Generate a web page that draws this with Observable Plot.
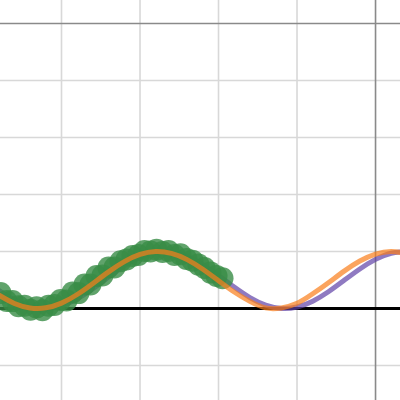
<!DOCTYPE html>
<html>
<head>
<meta charset="utf-8">
<script src="https://cdn.jsdelivr.net/npm/d3@7"></script>
<script src="https://cdn.jsdelivr.net/npm/@observablehq/plot@0.6"></script>
<style>
html, body { margin: 0; padding: 0; background: #fff; }
#chart svg { display: block; }
</style>
</head>
<body>
<div id="chart"></div>
<script>
// Grid positions (integer units)
const gridX = [-4, -3, -2, -1];
const gridY = [-6, -4, -3, -2, -1];
const axisX = [0];
const axisY = [0];
const baseLineY = [-5];

// Curve sample x positions
const curveX = [-4.8, -4.6, -4.4, -4.2, -4.0, -3.8, -3.6, -3.4, -3.2, -3.0, -2.8, -2.6, -2.4, -2.2, -2.0,
  -1.8, -1.6, -1.4, -1.2, -1.0, -0.8, -0.6, -0.4, -0.2, 0.0, 0.2, 0.4];
// Orange curve values
const orangeY = [-4.763, -4.911, -4.990, -4.988, -4.905, -4.754, -4.560, -4.357, -4.178, -4.052, -4.001,
  -4.033, -4.142, -4.312, -4.513, -4.711, -4.875, -4.989, -4.990, -4.909, -4.742, -4.547, -4.344,
  -4.167, -4.046, -4.000, -4.037];
// Purple curve values
const purpleY = [-4.680, -4.852, -4.964, -5.000, -4.952, -4.829, -4.651, -4.448, -4.253, -4.100, -4.013,
  -4.008, -4.085, -4.230, -4.421, -4.624, -4.808, -4.939, -4.998, -4.974, -4.871, -4.706, -4.506,
  -4.306, -4.138, -4.030, -4.001];

// Green data points
const pointX = [-4.777, -4.701, -4.624, -4.548, -4.471, -4.395, -4.318, -4.242, -4.166, -4.089, -4.013,
  -3.936, -3.860, -3.783, -3.707, -3.631, -3.554, -3.478, -3.401, -3.325, -3.248, -3.172, -3.096,
  -3.019, -2.943, -2.866, -2.790, -2.713, -2.637, -2.561, -2.484, -2.408, -2.331, -2.255, -2.178,
  -2.102, -2.025, -1.949];
const pointY = [-4.73, -4.87, -4.87, -4.96, -4.95, -5.02, -4.98, -5.03, -4.95, -4.94, -4.85,
  -4.86, -4.72, -4.73, -4.58, -4.58, -4.43, -4.42, -4.28, -4.28, -4.17, -4.14, -4.08,
  -4.06, -3.99, -4.00, -3.97, -4.01, -3.99, -4.06, -4.05, -4.13, -4.16, -4.23, -4.29,
  -4.37, -4.43, -4.47];

const orange = curveX.map((x, i) => ({x, y: orangeY[i]}));
const purple = curveX.map((x, i) => ({x, y: purpleY[i]}));
const points = pointX.map((x, i) => ({x, y: pointY[i]}));

const chart = Plot.plot({
  width: 400,
  height: 400,
  margin: 0,
  x: {domain: [-4.777, 0.318], axis: null},
  y: {domain: [-6.614, 0.404], axis: null},
  marks: [
    Plot.ruleX(gridX, {stroke: "#d8d8d8", strokeWidth: 1.6}),
    Plot.ruleY(gridY, {stroke: "#d8d8d8", strokeWidth: 1.6}),
    Plot.ruleX(axisX, {stroke: "#8a8a8a", strokeWidth: 1.6}),
    Plot.ruleY(axisY, {stroke: "#8a8a8a", strokeWidth: 1.6}),
    Plot.ruleY(baseLineY, {stroke: "#000", strokeWidth: 3}),
    Plot.line(purple, {x: "x", y: "y", stroke: "#6042a6", strokeOpacity: 0.7, strokeWidth: 5, curve: "natural"}),
    Plot.dot(points, {x: "x", y: "y", r: 11, fill: "#388c46", fillOpacity: 0.8, stroke: "none"}),
    Plot.line(orange, {x: "x", y: "y", stroke: "#fa7e19", strokeOpacity: 0.7, strokeWidth: 5, curve: "natural"})
  ]
});
document.getElementById("chart").appendChild(chart);
</script>
</body>
</html>
